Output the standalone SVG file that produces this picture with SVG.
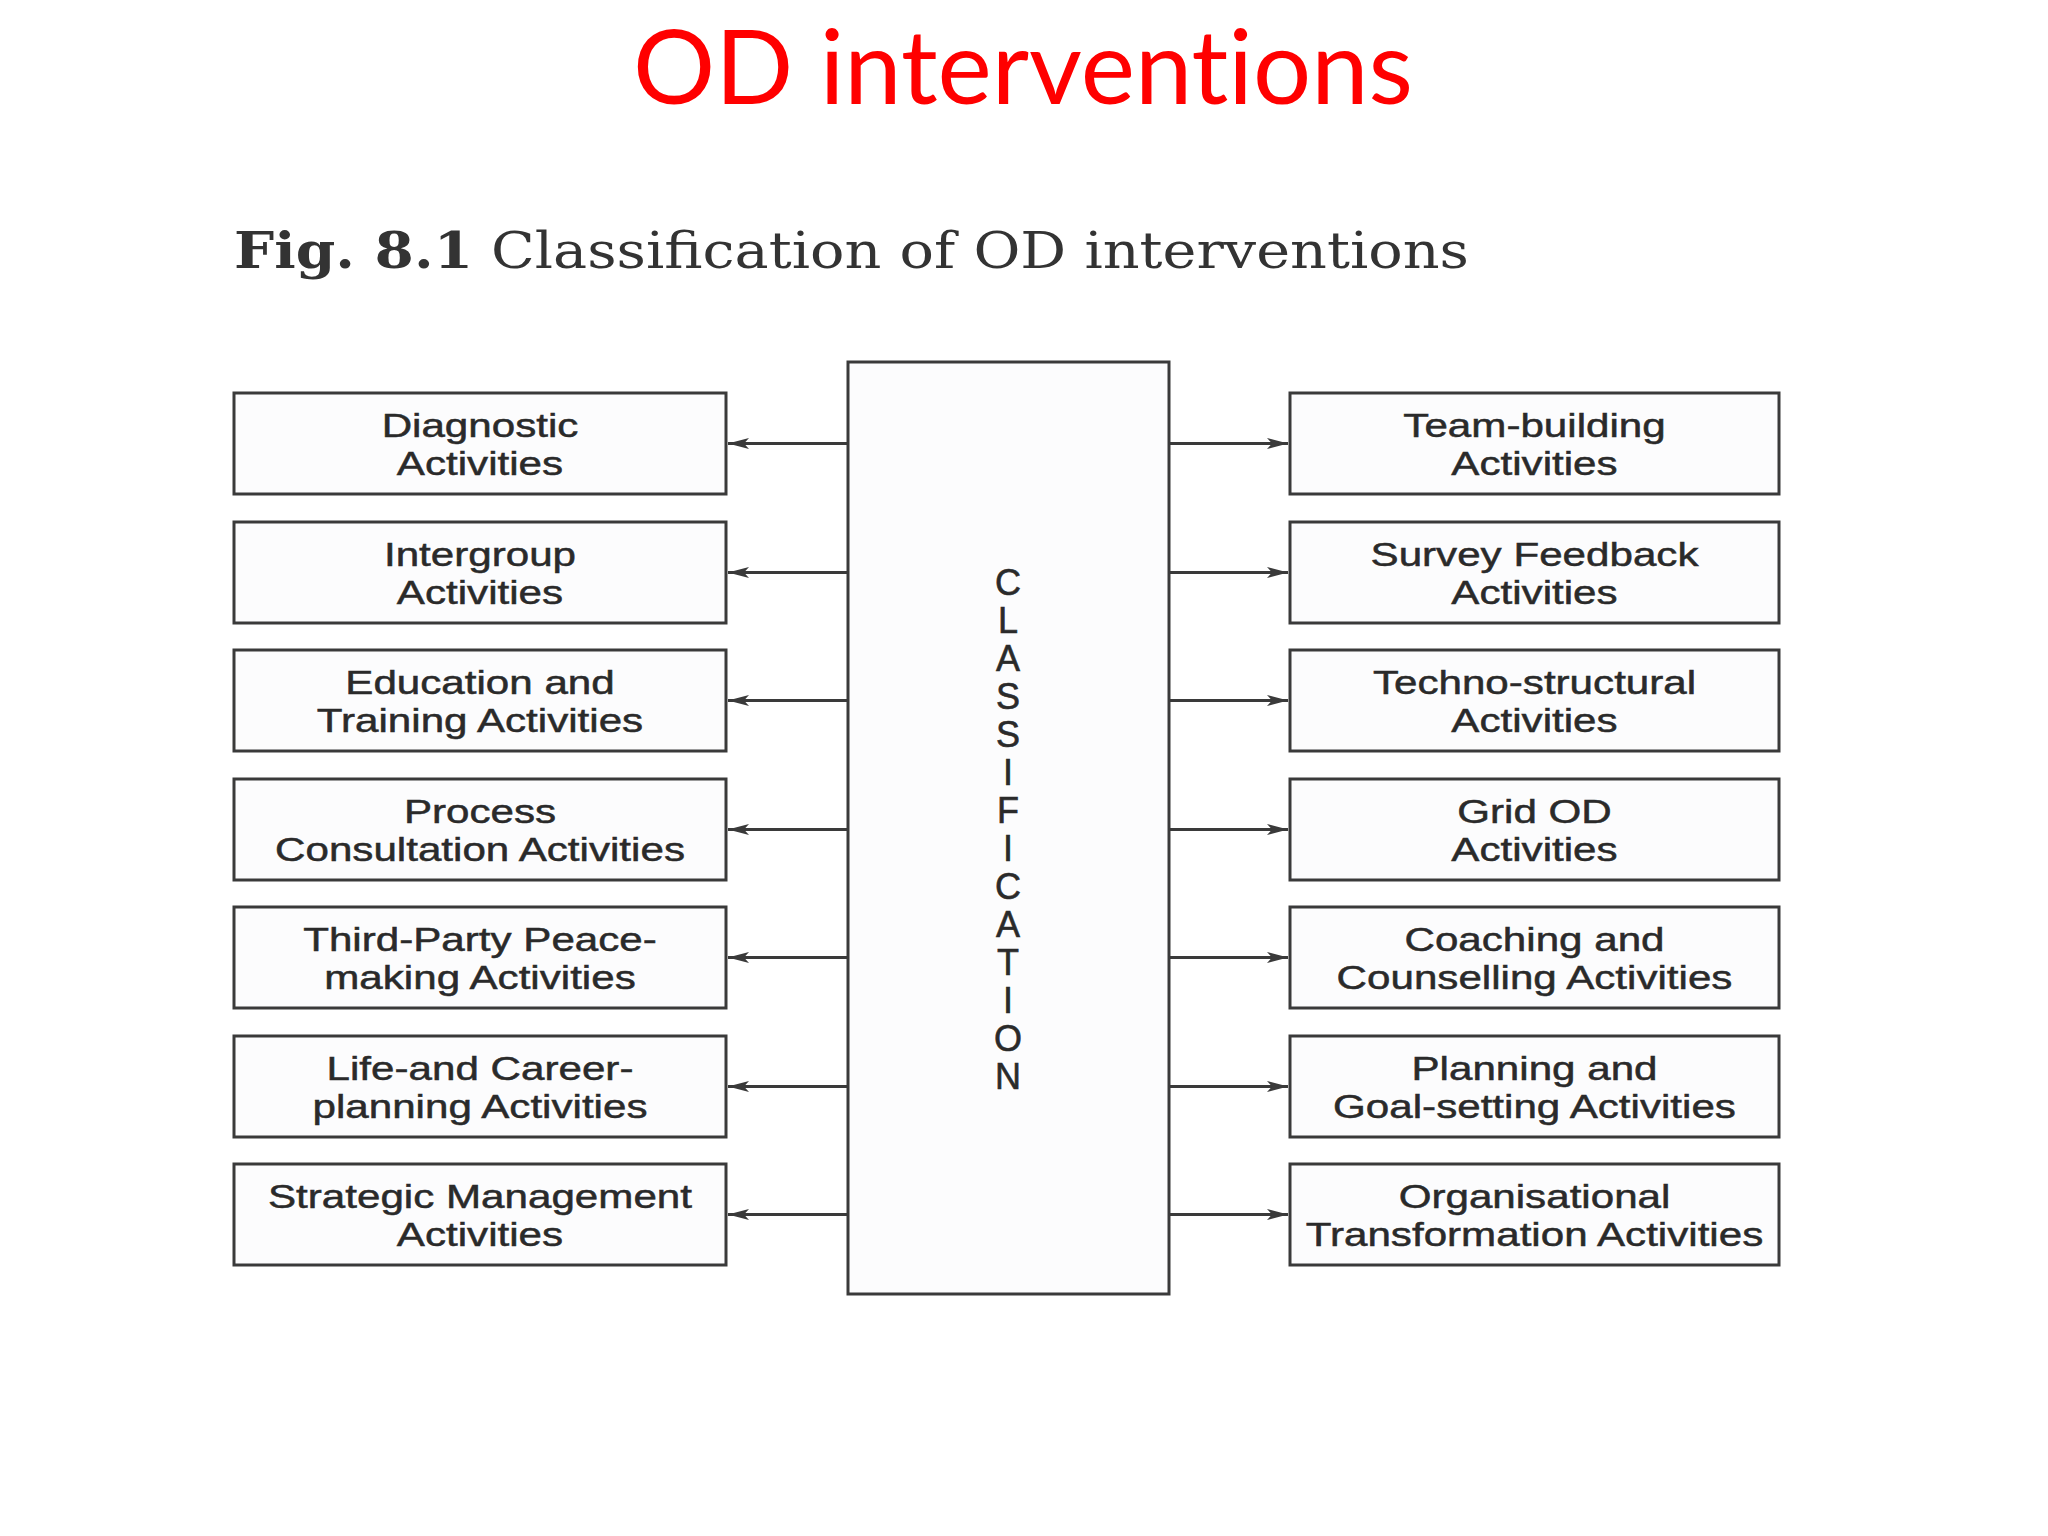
<svg xmlns="http://www.w3.org/2000/svg" width="2048" height="1536" viewBox="0 0 2048 1536">
<defs>
<style>
.box{fill:#fcfcfd;stroke:#3a3a3a;stroke-width:3}
.lbl{font-family:"Liberation Sans",Arial,sans-serif;font-size:34px;fill:#2a2a2a;stroke:#2a2a2a;stroke-width:0.5;text-anchor:middle}
.vt{font-family:"Liberation Sans",Arial,sans-serif;font-size:36px;fill:#2a2a2a;stroke:#2a2a2a;stroke-width:0.6;text-anchor:middle}
.conn{stroke:#3a3a3a;stroke-width:3;fill:none;marker-end:url(#ah)}
.title{font-family:Lato,"Open Sans",sans-serif;font-size:102px;fill:#ff0000;text-anchor:middle;font-variant-ligatures:none}
</style>
<marker id="ah" markerUnits="userSpaceOnUse" markerWidth="22" markerHeight="12" refX="21" refY="6" orient="auto">
<path d="M0,0.5 L21,6 L0,11.5 L5,6 z" fill="#3a3a3a"/>
</marker>
</defs>
<rect width="2048" height="1536" fill="#ffffff"/>
<text class="title" x="1023" y="104" textLength="780" lengthAdjust="spacingAndGlyphs">OD interventions</text>
<text id="caption" y="268" font-family="'DejaVu Serif',serif" font-size="50" fill="#333333"><tspan x="234" font-weight="bold" textLength="239" lengthAdjust="spacingAndGlyphs">Fig. 8.1</tspan><tspan x="491" textLength="978" lengthAdjust="spacingAndGlyphs">Classification of OD interventions</tspan></text>

<g id="connectors">
<line class="conn" x1="848" y1="443.5" x2="728" y2="443.5"/>
<line class="conn" x1="848" y1="572.5" x2="728" y2="572.5"/>
<line class="conn" x1="848" y1="700.5" x2="728" y2="700.5"/>
<line class="conn" x1="848" y1="829.5" x2="728" y2="829.5"/>
<line class="conn" x1="848" y1="957.5" x2="728" y2="957.5"/>
<line class="conn" x1="848" y1="1086.5" x2="728" y2="1086.5"/>
<line class="conn" x1="848" y1="1214.5" x2="728" y2="1214.5"/>
<line class="conn" x1="1169" y1="443.5" x2="1288" y2="443.5"/>
<line class="conn" x1="1169" y1="572.5" x2="1288" y2="572.5"/>
<line class="conn" x1="1169" y1="700.5" x2="1288" y2="700.5"/>
<line class="conn" x1="1169" y1="829.5" x2="1288" y2="829.5"/>
<line class="conn" x1="1169" y1="957.5" x2="1288" y2="957.5"/>
<line class="conn" x1="1169" y1="1086.5" x2="1288" y2="1086.5"/>
<line class="conn" x1="1169" y1="1214.5" x2="1288" y2="1214.5"/>
</g>

<g id="classification">
<rect class="box" x="848" y="362" width="321" height="932"/>
<text class="vt"><tspan x="1008" y="595">C</tspan><tspan x="1008" y="633">L</tspan><tspan x="1008" y="671">A</tspan><tspan x="1008" y="709">S</tspan><tspan x="1008" y="747">S</tspan><tspan x="1008" y="785">I</tspan><tspan x="1008" y="823">F</tspan><tspan x="1008" y="861">I</tspan><tspan x="1008" y="899">C</tspan><tspan x="1008" y="937">A</tspan><tspan x="1008" y="975">T</tspan><tspan x="1008" y="1013">I</tspan><tspan x="1008" y="1051">O</tspan><tspan x="1008" y="1089">N</tspan></text>
</g>

<g id="diagnostic"><rect class="box" x="234" y="393" width="492" height="101"/><text class="lbl" transform="matrix(1.24 0 0 1 480 0)"><tspan x="0" y="437.5">Diagnostic</tspan><tspan x="0" y="475.5">Activities</tspan></text></g>
<g id="intergroup"><rect class="box" x="234" y="522" width="492" height="101"/><text class="lbl" transform="matrix(1.24 0 0 1 480 0)"><tspan x="0" y="566.5">Intergroup</tspan><tspan x="0" y="604.5">Activities</tspan></text></g>
<g id="education"><rect class="box" x="234" y="650" width="492" height="101"/><text class="lbl" transform="matrix(1.24 0 0 1 480 0)"><tspan x="0" y="694.5">Education and</tspan><tspan x="0" y="732.5">Training Activities</tspan></text></g>
<g id="process"><rect class="box" x="234" y="779" width="492" height="101"/><text class="lbl" transform="matrix(1.24 0 0 1 480 0)"><tspan x="0" y="823.5">Process</tspan><tspan x="0" y="861.5">Consultation Activities</tspan></text></g>
<g id="thirdparty"><rect class="box" x="234" y="907" width="492" height="101"/><text class="lbl" transform="matrix(1.24 0 0 1 480 0)"><tspan x="0" y="951.5">Third-Party Peace-</tspan><tspan x="0" y="989.5">making Activities</tspan></text></g>
<g id="lifecareer"><rect class="box" x="234" y="1036" width="492" height="101"/><text class="lbl" transform="matrix(1.24 0 0 1 480 0)"><tspan x="0" y="1080.5">Life-and Career-</tspan><tspan x="0" y="1118.5">planning Activities</tspan></text></g>
<g id="strategic"><rect class="box" x="234" y="1164" width="492" height="101"/><text class="lbl" transform="matrix(1.24 0 0 1 480 0)"><tspan x="0" y="1208.5">Strategic Management</tspan><tspan x="0" y="1246.5">Activities</tspan></text></g>

<g id="teambuilding"><rect class="box" x="1290" y="393" width="489" height="101"/><text class="lbl" transform="matrix(1.24 0 0 1 1534.5 0)"><tspan x="0" y="437.5">Team-building</tspan><tspan x="0" y="475.5">Activities</tspan></text></g>
<g id="survey"><rect class="box" x="1290" y="522" width="489" height="101"/><text class="lbl" transform="matrix(1.24 0 0 1 1534.5 0)"><tspan x="0" y="566.5">Survey Feedback</tspan><tspan x="0" y="604.5">Activities</tspan></text></g>
<g id="techno"><rect class="box" x="1290" y="650" width="489" height="101"/><text class="lbl" transform="matrix(1.24 0 0 1 1534.5 0)"><tspan x="0" y="694.5">Techno-structural</tspan><tspan x="0" y="732.5">Activities</tspan></text></g>
<g id="gridod"><rect class="box" x="1290" y="779" width="489" height="101"/><text class="lbl" transform="matrix(1.24 0 0 1 1534.5 0)"><tspan x="0" y="823.5">Grid OD</tspan><tspan x="0" y="861.5">Activities</tspan></text></g>
<g id="coaching"><rect class="box" x="1290" y="907" width="489" height="101"/><text class="lbl" transform="matrix(1.24 0 0 1 1534.5 0)"><tspan x="0" y="951.5">Coaching and</tspan><tspan x="0" y="989.5">Counselling Activities</tspan></text></g>
<g id="planning"><rect class="box" x="1290" y="1036" width="489" height="101"/><text class="lbl" transform="matrix(1.24 0 0 1 1534.5 0)"><tspan x="0" y="1080.5">Planning and</tspan><tspan x="0" y="1118.5">Goal-setting Activities</tspan></text></g>
<g id="orgtransform"><rect class="box" x="1290" y="1164" width="489" height="101"/><text class="lbl" transform="matrix(1.24 0 0 1 1534.5 0)"><tspan x="0" y="1208.5">Organisational</tspan><tspan x="0" y="1246.5">Transformation Activities</tspan></text></g>
</svg>
